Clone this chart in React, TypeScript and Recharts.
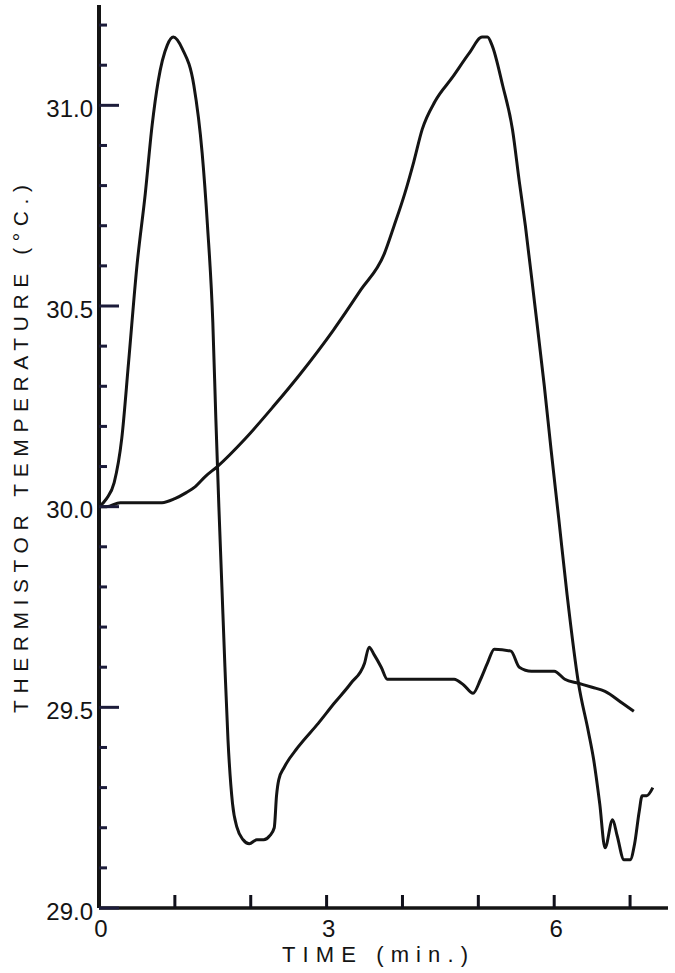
import { LineChart, Line, XAxis, YAxis, Label } from "recharts";

// time (min.) and thermistor temperature (°C.)
const fastTime = [0, 0.1, 0.2, 0.3, 0.39, 0.5, 0.61, 0.7, 0.78, 0.9, 0.98, 1.1, 1.25, 1.36, 1.43, 1.5, 1.54, 1.58, 1.62, 1.66, 1.7, 1.76, 1.82, 1.9, 1.98, 2.08, 2.17, 2.25, 2.31, 2.34, 2.37, 2.44, 2.62, 2.89, 3.1, 3.32, 3.5, 3.56, 3.63, 3.72, 3.8, 3.88, 4.21, 4.57, 4.68, 4.81, 4.93, 5.03, 5.12, 5.21, 5.43, 5.54, 5.7, 6.0, 6.14, 6.32, 6.5, 6.67, 6.9, 7.05];
const fastTemp = [30.0, 30.02, 30.06, 30.17, 30.36, 30.6, 30.78, 30.95, 31.06, 31.15, 31.17, 31.14, 31.05, 30.88, 30.7, 30.46, 30.22, 30.0, 29.8, 29.6, 29.42, 29.26, 29.2, 29.17, 29.16, 29.17, 29.17, 29.18, 29.2, 29.28, 29.32, 29.35, 29.4, 29.46, 29.51, 29.56, 29.61, 29.65, 29.63, 29.6, 29.57, 29.57, 29.57, 29.57, 29.57, 29.555, 29.535, 29.57, 29.61, 29.645, 29.64, 29.6, 29.59, 29.59, 29.57, 29.56, 29.55, 29.54, 29.51, 29.49];

const slowTime = [0, 0.1, 0.28, 0.5, 0.83, 1.0, 1.15, 1.27, 1.4, 1.56, 1.93, 2.3, 2.65, 3.09, 3.45, 3.76, 3.89, 4.03, 4.15, 4.26, 4.43, 4.66, 4.88, 5.05, 5.12, 5.18, 5.32, 5.45, 5.54, 5.62, 5.74, 5.87, 5.96, 6.06, 6.17, 6.32, 6.45, 6.52, 6.6, 6.67, 6.77, 6.83, 6.92, 7.0, 7.06, 7.12, 7.16, 7.22, 7.3];
const slowTemp = [30.0, 30.0, 30.01, 30.01, 30.01, 30.02, 30.035, 30.05, 30.075, 30.1, 30.17, 30.25, 30.33, 30.44, 30.54, 30.63, 30.7, 30.78, 30.86, 30.94, 31.01, 31.07, 31.13, 31.17, 31.17, 31.15, 31.05, 30.94, 30.81, 30.7, 30.51, 30.3, 30.14, 29.97, 29.78, 29.56, 29.44, 29.37, 29.26, 29.15, 29.22, 29.18, 29.12, 29.12, 29.16, 29.24, 29.28, 29.28, 29.3];

const timeTicks = [0, 1, 2, 3, 4, 5, 6, 7];
const timeLabels = [0, 3, 6];
const tempTicks = [29.0, 29.1, 29.2, 29.3, 29.4, 29.5, 29.6, 29.7, 29.8, 29.9, 30.0, 30.1, 30.2, 30.3, 30.4, 30.5, 30.6, 30.7, 30.8, 30.9, 31.0, 31.1, 31.2];
const tempLabels = [29.0, 29.5, 30.0, 30.5, 31.0];

const fastData = fastTime.map((t, i) => ({ t, temp: fastTemp[i] }));
const slowData = slowTime.map((t, i) => ({ t, temp: slowTemp[i] }));

const INK = "#141414";
const MARK = "#10101a"; // x tick marks
const YMARK = "#1c1c3a"; // y tick marks (pure greys did not show up here)
const FONT = "'Liberation Sans', Arial, sans-serif";

const renderTempTick = (props: any) => {
  const { x, y } = props;
  const v = props.payload.value;
  const labelled = tempLabels.includes(v);
  return (
    <g>
      <rect x={x} y={y - 1.5} width={labelled ? 20 : 8} height={3} fill={YMARK} />
      {labelled && (
        <text x={x - 6} y={y} dy={3} textAnchor="end" dominantBaseline="central" fill={INK} fontSize={24} fontFamily={FONT}>
          {v.toFixed(1)}
        </text>
      )}
    </g>
  );
};

const renderTimeTick = (props: any) => {
  const { x, y } = props;
  const v = props.payload.value;
  return (
    <g>
      {v > 0 && <rect x={x - 1.5} y={y - 13} width={3} height={13} fill={MARK} />}
      {timeLabels.includes(v) && (
        <text x={x + 2} y={y + 20} textAnchor="middle" dominantBaseline="central" fill={INK} fontSize={24} fontFamily={FONT}>
          {v}
        </text>
      )}
    </g>
  );
};

export default function App() {
  return (
    <div style={{ position: "absolute", left: 0, top: 0, background: "#fff" }}>
      <LineChart width={675} height={973} margin={{ top: 5, right: 7, bottom: 0, left: 0 }}>
        <XAxis
          type="number"
          dataKey="t"
          domain={[0, 7.5]}
          ticks={timeTicks}
          interval={0}
          tickSize={0}
          tickMargin={0}
          tickLine={false}
          tick={renderTimeTick}
          height={65}
          axisLine={{ stroke: INK, strokeWidth: 3.5 }}
        >
          <Label
            content={() => (
              <text x={375} y={954} textAnchor="middle" dominantBaseline="central" fill={INK} fontSize={22} fontFamily={FONT} textLength={186} lengthAdjust="spacing">
                TIME (min.)
              </text>
            )}
          />
        </XAxis>
        <YAxis
          type="number"
          dataKey="temp"
          domain={[29, 31.25]}
          ticks={tempTicks}
          interval={0}
          tickSize={0}
          tickMargin={0}
          tickLine={false}
          tick={renderTempTick}
          width={99}
          axisLine={{ stroke: INK, strokeWidth: 4 }}
        >
          <Label
            content={() => (
              <text x={20} y={449} transform="rotate(-90 20 449)" textAnchor="middle" dominantBaseline="central" fill={INK} fontSize={21} fontFamily={FONT} textLength={528} lengthAdjust="spacing">
                THERMISTOR TEMPERATURE (°C.)
              </text>
            )}
          />
        </YAxis>
        <Line data={fastData} dataKey="temp" type="monotone" stroke={INK} strokeWidth={3} dot={false} isAnimationActive={false} />
        <Line data={slowData} dataKey="temp" type="monotone" stroke={INK} strokeWidth={3} dot={false} isAnimationActive={false} />
      </LineChart>
    </div>
  );
}
